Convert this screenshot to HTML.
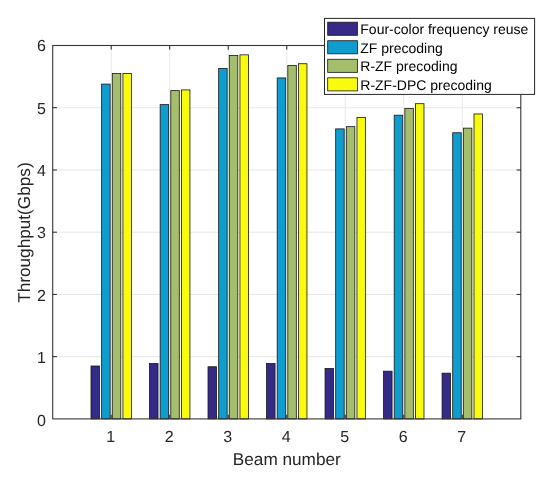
<!DOCTYPE html>
<html lang="en"><head><meta charset="utf-8"><title>Throughput per beam</title>
<style>text{text-rendering:geometricPrecision}html,body{margin:0;padding:0;background:#fff}body{width:550px;height:485px;overflow:hidden}</style></head>
<body>
<svg width="550" height="485" viewBox="0 0 550 485" style="display:block">
<rect x="0" y="0" width="550" height="485" fill="#ffffff"/>
<path d="M111.21 45.50V418.90M169.72 45.50V418.90M228.24 45.50V418.90M286.75 45.50V418.90M345.26 45.50V418.90M403.77 45.50V418.90M462.29 45.50V418.90M52.70 356.67H520.80M52.70 294.43H520.80M52.70 232.20H520.80M52.70 169.97H520.80M52.70 107.73H520.80" stroke="#e4e4e4" stroke-width="0.9" fill="none"/>
<rect x="91.00" y="366.00" width="8.51" height="52.90" fill="#352a87" stroke="#161616" stroke-width="0.8"/>
<rect x="101.64" y="84.08" width="8.51" height="334.82" fill="#0f9ccf" stroke="#161616" stroke-width="0.8"/>
<rect x="112.28" y="73.50" width="8.51" height="345.39" fill="#a5be6b" stroke="#161616" stroke-width="0.8"/>
<rect x="122.92" y="73.50" width="8.51" height="345.39" fill="#f9fb0e" stroke="#161616" stroke-width="0.8"/>
<rect x="149.51" y="363.57" width="8.51" height="55.33" fill="#352a87" stroke="#161616" stroke-width="0.8"/>
<rect x="160.15" y="104.62" width="8.51" height="314.28" fill="#0f9ccf" stroke="#161616" stroke-width="0.8"/>
<rect x="170.79" y="90.62" width="8.51" height="328.28" fill="#a5be6b" stroke="#161616" stroke-width="0.8"/>
<rect x="181.43" y="89.93" width="8.51" height="328.97" fill="#f9fb0e" stroke="#161616" stroke-width="0.8"/>
<rect x="208.02" y="366.75" width="8.51" height="52.15" fill="#352a87" stroke="#161616" stroke-width="0.8"/>
<rect x="218.66" y="68.53" width="8.51" height="350.37" fill="#0f9ccf" stroke="#161616" stroke-width="0.8"/>
<rect x="229.30" y="55.46" width="8.51" height="363.44" fill="#a5be6b" stroke="#161616" stroke-width="0.8"/>
<rect x="239.94" y="54.84" width="8.51" height="364.06" fill="#f9fb0e" stroke="#161616" stroke-width="0.8"/>
<rect x="266.54" y="363.57" width="8.51" height="55.33" fill="#352a87" stroke="#161616" stroke-width="0.8"/>
<rect x="277.18" y="77.92" width="8.51" height="340.98" fill="#0f9ccf" stroke="#161616" stroke-width="0.8"/>
<rect x="287.81" y="65.41" width="8.51" height="353.49" fill="#a5be6b" stroke="#161616" stroke-width="0.8"/>
<rect x="298.45" y="63.73" width="8.51" height="355.17" fill="#f9fb0e" stroke="#161616" stroke-width="0.8"/>
<rect x="325.05" y="368.49" width="8.51" height="50.41" fill="#352a87" stroke="#161616" stroke-width="0.8"/>
<rect x="335.69" y="128.89" width="8.51" height="290.01" fill="#0f9ccf" stroke="#161616" stroke-width="0.8"/>
<rect x="346.33" y="126.65" width="8.51" height="292.25" fill="#a5be6b" stroke="#161616" stroke-width="0.8"/>
<rect x="356.96" y="117.44" width="8.51" height="301.46" fill="#f9fb0e" stroke="#161616" stroke-width="0.8"/>
<rect x="383.56" y="371.17" width="8.51" height="47.73" fill="#352a87" stroke="#161616" stroke-width="0.8"/>
<rect x="394.20" y="115.20" width="8.51" height="303.70" fill="#0f9ccf" stroke="#161616" stroke-width="0.8"/>
<rect x="404.84" y="108.54" width="8.51" height="310.36" fill="#a5be6b" stroke="#161616" stroke-width="0.8"/>
<rect x="415.48" y="103.69" width="8.51" height="315.21" fill="#f9fb0e" stroke="#161616" stroke-width="0.8"/>
<rect x="442.07" y="373.16" width="8.51" height="45.74" fill="#352a87" stroke="#161616" stroke-width="0.8"/>
<rect x="452.71" y="132.75" width="8.51" height="286.15" fill="#0f9ccf" stroke="#161616" stroke-width="0.8"/>
<rect x="463.35" y="128.15" width="8.51" height="290.75" fill="#a5be6b" stroke="#161616" stroke-width="0.8"/>
<rect x="473.99" y="113.96" width="8.51" height="304.94" fill="#f9fb0e" stroke="#161616" stroke-width="0.8"/>
<rect x="52.70" y="45.50" width="468.10" height="373.40" fill="none" stroke="#363636" stroke-width="1.1"/>
<path d="M111.21 418.90v-4.2M111.21 45.50v4.2M169.72 418.90v-4.2M169.72 45.50v4.2M228.24 418.90v-4.2M228.24 45.50v4.2M286.75 418.90v-4.2M286.75 45.50v4.2M345.26 418.90v-4.2M345.26 45.50v4.2M403.77 418.90v-4.2M403.77 45.50v4.2M462.29 418.90v-4.2M462.29 45.50v4.2M52.70 356.67h4.2M520.80 356.67h-4.2M52.70 294.43h4.2M520.80 294.43h-4.2M52.70 232.20h4.2M520.80 232.20h-4.2M52.70 169.97h4.2M520.80 169.97h-4.2M52.70 107.73h4.2M520.80 107.73h-4.2" stroke="#262626" stroke-width="1" fill="none"/>
<g font-family="'Liberation Sans', Arial, sans-serif" font-size="16" fill="#262626">
<text x="110.61" y="441.9" text-anchor="middle">1</text>
<text x="169.12" y="441.9" text-anchor="middle">2</text>
<text x="227.64" y="441.9" text-anchor="middle">3</text>
<text x="286.15" y="441.9" text-anchor="middle">4</text>
<text x="344.66" y="441.9" text-anchor="middle">5</text>
<text x="403.17" y="441.9" text-anchor="middle">6</text>
<text x="461.69" y="441.9" text-anchor="middle">7</text>
<text x="46.0" y="425.70" text-anchor="end">0</text>
<text x="46.0" y="363.30" text-anchor="end">1</text>
<text x="46.0" y="300.89" text-anchor="end">2</text>
<text x="46.0" y="238.49" text-anchor="end">3</text>
<text x="46.0" y="176.09" text-anchor="end">4</text>
<text x="46.0" y="113.68" text-anchor="end">5</text>
<text x="46.0" y="51.28" text-anchor="end">6</text>
</g>
<g font-family="'Liberation Sans', Arial, sans-serif" font-size="17.2" fill="#262626">
<text x="286.8" y="465" text-anchor="middle">Beam number</text>
<text transform="translate(29.5 232.6) rotate(-90)" text-anchor="middle">Throughput(Gbps)</text>
</g>
<rect x="324.5" y="18.4" width="210.10" height="76.00" fill="#ffffff" stroke="#262626" stroke-width="1"/>
<g font-family="'Liberation Sans', Arial, sans-serif" font-size="14" fill="#000000">
<rect x="327.7" y="22.20" width="29.7" height="13.1" fill="#352a87" stroke="#161616" stroke-width="0.8"/>
<text x="360.3" y="34.40">Four-color frequency reuse</text>
<rect x="327.7" y="40.73" width="29.7" height="13.1" fill="#0f9ccf" stroke="#161616" stroke-width="0.8"/>
<text x="360.3" y="52.93">ZF precoding</text>
<rect x="327.7" y="59.26" width="29.7" height="13.1" fill="#a5be6b" stroke="#161616" stroke-width="0.8"/>
<text x="360.3" y="71.46">R-ZF precoding</text>
<rect x="327.7" y="77.79" width="29.7" height="13.1" fill="#f9fb0e" stroke="#161616" stroke-width="0.8"/>
<text x="360.3" y="89.99">R-ZF-DPC precoding</text>
</g>
</svg>
</body></html>
